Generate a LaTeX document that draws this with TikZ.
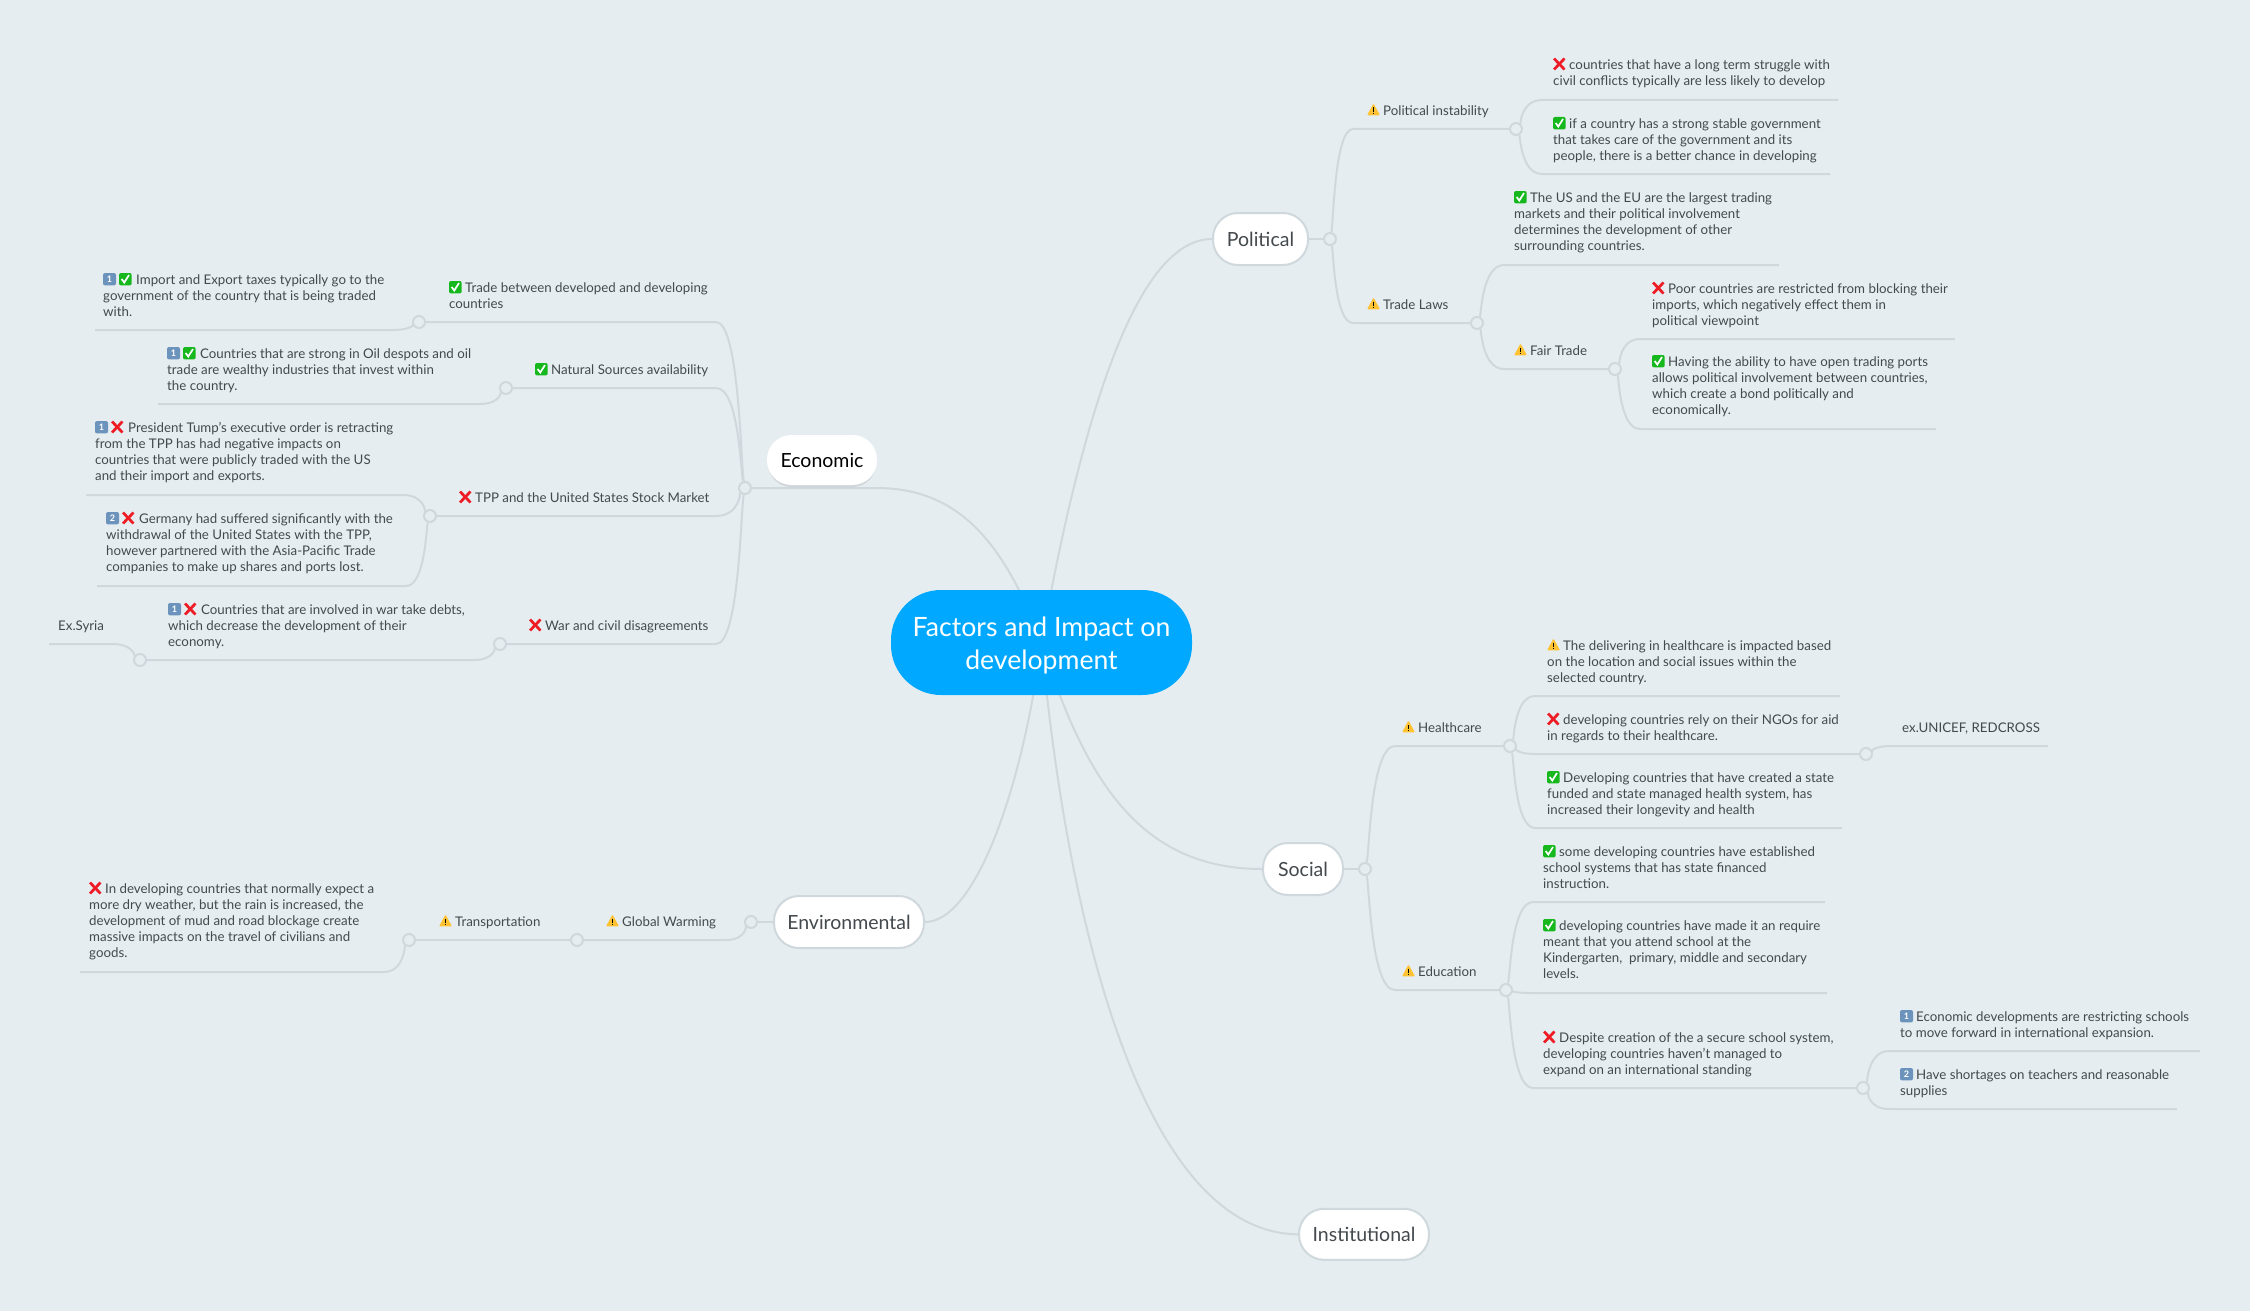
\documentclass[tikz,border=0pt]{standalone}
\usepackage{fontspec}
\setmainfont{Lato}
\usetikzlibrary{calc,shadows}
\definecolor{bgc}{HTML}{E6EDF1}
\definecolor{linec}{HTML}{CFD8DC}
\definecolor{txtc}{HTML}{43494D}
\definecolor{mainc}{HTML}{00A9FF}
\definecolor{okc}{HTML}{16B81E}
\definecolor{noc}{HTML}{EE1C25}
\definecolor{warnc}{HTML}{FFC233}
\definecolor{keyc}{HTML}{6C93BC}
\pgfdeclarelayer{paper}
\pgfdeclarelayer{back}
\pgfsetlayers{paper,back,main}
\tikzset{
  conn/.style={draw=linec,line width=2pt},
  jct/.style={circle,draw=linec,line width=2pt,fill=bgc,minimum size=12pt,inner sep=0pt},
  prim/.style={rounded corners=25pt,draw=linec,line width=2pt,fill=white,inner sep=0pt,font=\fontsize{19.5}{24}\selectfont,text=txtc},
  lbl/.style={anchor=north west,inner sep=0pt,align=left,text=txtc,font=\fontsize{13.3}{16}\selectfont},
  icok/.pic={\fill[okc,rounded corners=2pt] (0,-11) rectangle (12.7,1.4);
    \draw[white,line width=1.7pt] (2.6,-5) -- (5.3,-1.5) -- (10,-9);},
  icno/.pic={\draw[noc,line width=2.7pt] (1,-10.5) -- (11.5,0.5) (11.5,-10.5) -- (1,0.5);},
  icwarn/.pic={\fill[warnc,rounded corners=1pt] (6.5,-11.5) -- (13,0.3) -- (0,0.3) -- cycle;
    \draw[black,line width=1.1pt] (6.5,-7.5) -- (6.5,-3.2) (6.5,-2.2) -- (6.5,-1);},
  ickey/.pic={\fill[keyc,rounded corners=2pt] (0,-11) rectangle (13,1.4);
    \node[inner sep=0pt,text=white,font=\fontsize{9}{9}\bfseries\selectfont] (-d) at (6.5,-4.8) {#1};},
}
\newcommand\lbl[5]{\node[lbl] (#1) at (#2,#3-11.5) {\rule{0pt}{12pt}\hspace*{#4pt}#5};}
\newcommand\ic[4]{\pic (#1) at (#2,#3) {#4};}
\newcommand\twig[5]{% name, from, sx, sy, to
  \coordinate (#1) at (#3,#4);
  \coordinate (#1c) at ($(#2)!.2!(#1)$);
  \draw[conn] (#2) .. controls ($(#2)!.15!(#1)$) and (#1c |- #1) .. (#1) -- (#5);}
\newcommand\fin[3]{\coordinate (#1) at (#2,#3);}
\begin{document}
\begin{tikzpicture}[x=1pt,y=-1pt]
\useasboundingbox (0,0) rectangle (2250,1311);
\begin{pgfonlayer}{paper}
\fill[bgc] (0,0) rectangle (2250,1311);
\end{pgfonlayer}
% primary nodes
\node[fill=mainc,rounded corners=50pt,minimum width=301pt,minimum height=105pt,inner sep=0pt,text=white,align=center,font=\fontsize{26.6}{33}\selectfont] (central) at (1041.5,642.5) {\rule{0pt}{25pt}Factors and Impact on\\development};
\node[prim,minimum width=95pt,minimum height=52pt] (political) at (1260.5,239) {Political};
\node[prim,rounded corners=23.5pt,minimum width=108pt,minimum height=48pt,draw=white,fill=white,text=black,drop shadow={opacity=.22,shadow xshift=0pt,shadow yshift=-3pt}] (economic) at (822,460) {Economic};
\node[prim,minimum width=80pt,minimum height=52pt] (social) at (1303,869) {Social};
\node[prim,minimum width=150pt,minimum height=52pt] (environmental) at (849,922) {Environmental};
\node[prim,minimum width=130pt,minimum height=51pt] (institutional) at (1364,1234.3) {Institutional};
% junctions
\node[jct] (jpol) at (1330,239) {};
\node[jct] (jinst) at (1516,129) {};
\node[jct] (jlaw) at (1477,323) {};
\node[jct] (jfair) at (1615,369) {};
\node[jct] (jsoc) at (1365,869) {};
\node[jct] (jhealth) at (1510,746) {};
\node[jct] (jngo) at (1866,754) {};
\node[jct] (jedu) at (1506,990) {};
\node[jct] (jdesp) at (1863,1088) {};
\node[jct] (jeco) at (745,488) {};
\node[jct] (jtrade) at (419,322) {};
\node[jct] (jnat) at (506,388) {};
\node[jct] (jtpp) at (430,516) {};
\node[jct] (jwar) at (500,644) {};
\node[jct] (jsyr) at (140,660) {};
\node[jct] (jenv) at (751,922) {};
\node[jct] (jglob) at (577,940) {};
\node[jct] (jtrans) at (409,940) {};
% free ends
\fin{e1}{1838}{100} \fin{e2}{1830}{174} \fin{e3}{1779}{265} \fin{e4}{1955}{339} \fin{e5}{1936}{429}
\fin{e6}{1840}{696} \fin{e7}{1842}{828} \fin{e8}{2048}{746} \fin{e9}{1825}{902} \fin{e10}{1827}{993}
\fin{e11}{2200}{1051} \fin{e12}{2177}{1109} \fin{e13}{95}{330} \fin{e14}{158}{404} \fin{e15}{86}{495}
\fin{e16}{97}{586} \fin{e17}{49}{644} \fin{e18}{80}{972}
\begin{pgfonlayer}{back}
\draw[conn] (central.center) .. controls (1085,400) and (1140,239) .. (political.west);
\draw[conn] (central.center) .. controls (1000,530) and (950,488) .. (876,488) -- (jeco);
\draw[conn] (central.center) .. controls (1085,780) and (1140,869) .. (social.west);
\draw[conn] (central.center) .. controls (1070,950) and (1150,1233) .. (institutional.west);
\draw[conn] (central.center) .. controls (1022,790) and (975,922) .. (environmental.east);
\draw[conn] (political) -- (jpol);
\draw[conn] (social) -- (jsoc);
\draw[conn] (environmental) -- (jenv);
\twig{s1}{jpol}{1353}{129}{jinst}
\twig{s2}{jpol}{1353}{323}{jlaw}
\twig{s3}{jinst}{1542}{100}{e1}
\twig{s4}{jinst}{1542}{174}{e2}
\twig{s5}{jlaw}{1504}{265}{e3}
\twig{s6}{jlaw}{1504}{369}{jfair}
\twig{s7}{jfair}{1640}{339}{e4}
\twig{s8}{jfair}{1640}{429}{e5}
\twig{s9}{jsoc}{1395}{746}{jhealth}
\twig{s10}{jsoc}{1395}{990}{jedu}
\twig{s11}{jhealth}{1535}{696}{e6}
\twig{s12}{jhealth}{1535}{754}{jngo}
\twig{s13}{jhealth}{1535}{828}{e7}
\twig{s14}{jngo}{1892}{746}{e8}
\twig{s15}{jedu}{1533}{902}{e9}
\twig{s16}{jedu}{1533}{993}{e10}
\twig{s17}{jedu}{1533}{1088}{jdesp}
\twig{s18}{jdesp}{1889}{1051}{e11}
\twig{s19}{jdesp}{1889}{1109}{e12}
\twig{s20}{jeco}{716}{322}{jtrade}
\twig{s21}{jeco}{716}{388}{jnat}
\twig{s22}{jeco}{716}{516}{jtpp}
\twig{s23}{jeco}{716}{644}{jwar}
\twig{s24}{jtrade}{392}{330}{e13}
\twig{s25}{jnat}{480}{404}{e14}
\twig{s26}{jtpp}{403}{495}{e15}
\twig{s27}{jtpp}{406}{586}{e16}
\twig{s28}{jwar}{474}{660}{jsyr}
\twig{s29}{jsyr}{112}{644}{e17}
\twig{s30}{jenv}{726}{940}{jglob}
\draw[conn] (jglob) -- (jtrans);
\twig{s31}{jtrans}{384}{972}{e18}
\end{pgfonlayer}
% right side
\ic{i1}{1367}{115}{icwarn} \lbl{t1}{1367}{115}{16}{Political instability}
\ic{i2}{1553}{69}{icno} \lbl{t2}{1553}{69}{16}{countries that have a long term struggle with\\civil conflicts typically are less likely to develop}
\ic{i3}{1553}{128}{icok} \lbl{t3}{1553}{128}{16}{if a country has a strong stable government\\that takes care of the government and its\\people, there is a better chance in developing}
\ic{i4}{1514}{202}{icok} \lbl{t4}{1514}{202}{16}{The US and the EU are the largest trading\\markets and their political involvement\\determines the development of other\\surrounding countries.}
\ic{i5}{1367}{309}{icwarn} \lbl{t5}{1367}{309}{16}{Trade Laws}
\ic{i6}{1514}{355}{icwarn} \lbl{t6}{1514}{355}{16}{Fair Trade}
\ic{i7}{1652}{293}{icno} \lbl{t7}{1652}{293}{16}{Poor countries are restricted from blocking their\\imports, which negatively effect them in\\political viewpoint}
\ic{i8}{1652}{366}{icok} \lbl{t8}{1652}{366}{16}{Having the ability to have open trading ports\\allows political involvement between countries,\\which create a bond politically and\\economically.}
\ic{i9}{1402}{732}{icwarn} \lbl{t9}{1402}{732}{16}{Healthcare}
\ic{i10}{1547}{650}{icwarn} \lbl{t10}{1547}{650}{16}{The delivering in healthcare is impacted based\\on the location and social issues within the\\selected country.}
\ic{i11}{1547}{724}{icno} \lbl{t11}{1547}{724}{16}{developing countries rely on their NGOs for aid\\in regards to their healthcare.}
\ic{i12}{1547}{782}{icok} \lbl{t12}{1547}{782}{16}{Developing countries that have created a state\\funded and state managed health system, has\\increased their longevity and health}
\lbl{t13}{1902}{732}{0}{ex.UNICEF, REDCROSS}
\ic{i14}{1543}{856}{icok} \lbl{t14}{1543}{856}{16}{some developing countries have established\\school systems that has state financed\\instruction.}
\ic{i15}{1543}{930}{icok} \lbl{t15}{1543}{930}{16}{developing countries have made it an require\\meant that you attend school at the\\Kindergarten,\ \ primary, middle and secondary\\levels.}
\ic{i16}{1543}{1042}{icno} \lbl{t16}{1543}{1042}{16}{Despite creation of the a secure school system,\\developing countries haven't managed to\\expand on an international standing}
\ic{i17}{1402}{976}{icwarn} \lbl{t17}{1402}{976}{16}{Education}
\pic (i18) at (1900,1021) {ickey=1}; \lbl{t18}{1900}{1021}{16}{Economic developments are restricting schools\\to move forward in international expansion.}
\pic (i19) at (1900,1079) {ickey=2}; \lbl{t19}{1900}{1079}{16}{Have shortages on teachers and reasonable\\supplies}
% left side
\pic (i20) at (103,284) {ickey=1}; \ic{i20b}{119}{284}{icok} \lbl{t20}{103}{284}{33}{Import and Export taxes typically go to the\\government of the country that is being traded\\with.}
\ic{i21}{449}{292}{icok} \lbl{t21}{449}{292}{16}{Trade between developed and developing\\countries}
\pic (i22) at (167,358) {ickey=1}; \ic{i22b}{183}{358}{icok} \lbl{t22}{167}{358}{33}{Countries that are strong in Oil despots and oil\\trade are wealthy industries that invest within\\the country.}
\ic{i23}{535}{374}{icok} \lbl{t23}{535}{374}{16}{Natural Sources availability}
\pic (i24) at (95,432) {ickey=1}; \ic{i24b}{111}{432}{icno} \lbl{t24}{95}{432}{33}{President Tump's executive order is retracting\\from the TPP has had negative impacts on\\countries that were publicly traded with the US\\and their import and exports.}
\ic{i25}{459}{502}{icno} \lbl{t25}{459}{502}{16}{TPP and the United States Stock Market}
\pic (i26) at (106,523) {ickey=2}; \ic{i26b}{122}{523}{icno} \lbl{t26}{106}{523}{33}{Germany had suffered significantly with the\\withdrawal of the United States with the TPP,\\however partnered with the Asia-Pacific Trade\\companies to make up shares and ports lost.}
\pic (i27) at (168,614) {ickey=1}; \ic{i27b}{184}{614}{icno} \lbl{t27}{168}{614}{33}{Countries that are involved in war take debts,\\which decrease the development of their\\economy.}
\ic{i28}{529}{630}{icno} \lbl{t28}{529}{630}{16}{War and civil disagreements}
\lbl{t29}{58}{630}{0}{Ex.Syria}
\ic{i30}{606}{926}{icwarn} \lbl{t30}{606}{926}{16}{Global Warming}
\ic{i31}{439}{926}{icwarn} \lbl{t31}{439}{926}{16}{Transportation}
\ic{i32}{89}{893}{icno} \lbl{t32}{89}{893}{16}{In developing countries that normally expect a\\more dry weather, but the rain is increased, the\\development of mud and road blockage create\\massive impacts on the travel of civilians and\\goods.}
\end{tikzpicture}
\end{document}
